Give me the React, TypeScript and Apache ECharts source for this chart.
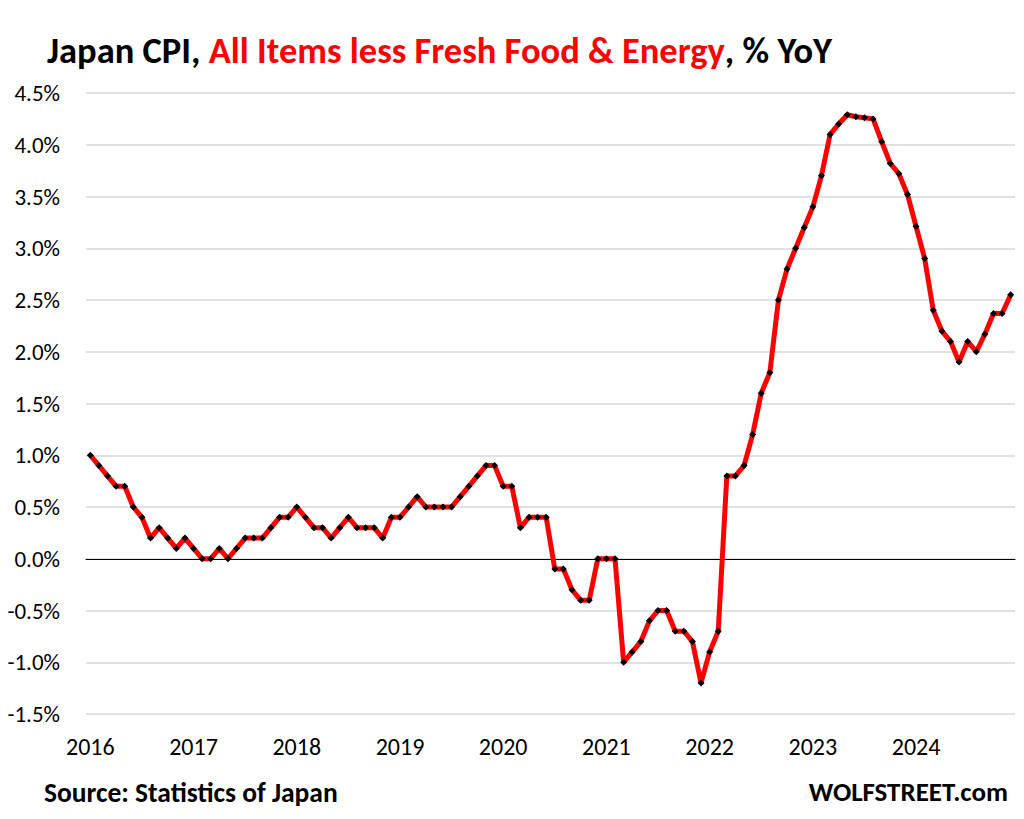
import React, { useEffect, useRef } from "react";
import * as echarts from "echarts";

// Monthly year-over-year change, Jan 2016 .. Dec 2024
const years = ["2016", "2017", "2018", "2019", "2020", "2021", "2022", "2023", "2024"];

const y2016 = [1.0, 0.9, 0.8, 0.7, 0.7, 0.5, 0.4, 0.2, 0.3, 0.2, 0.1, 0.2];
const y2017 = [0.1, 0.0, 0.0, 0.1, 0.0, 0.1, 0.2, 0.2, 0.2, 0.3, 0.4, 0.4];
const y2018 = [0.5, 0.4, 0.3, 0.3, 0.2, 0.3, 0.4, 0.3, 0.3, 0.3, 0.2, 0.4];
const y2019 = [0.4, 0.5, 0.6, 0.5, 0.5, 0.5, 0.5, 0.6, 0.7, 0.8, 0.9, 0.9];
const y2020 = [0.7, 0.7, 0.3, 0.4, 0.4, 0.4, -0.1, -0.1, -0.3, -0.4, -0.4, 0.0];
const y2021 = [0.0, 0.0, -1.0, -0.9, -0.8, -0.6, -0.5, -0.5, -0.7, -0.7, -0.8, -1.2];
const y2022 = [-0.9, -0.7, 0.8, 0.8, 0.9, 1.2, 1.6, 1.8, 2.5, 2.8, 3.0, 3.2];
const y2023 = [3.4, 3.7, 4.1, 4.2, 4.29, 4.27, 4.26, 4.25, 4.03, 3.82, 3.72, 3.52];
const y2024 = [3.21, 2.9, 2.4, 2.2, 2.1, 1.9, 2.1, 2.0, 2.17, 2.37, 2.37, 2.55];

const yearly = [y2016, y2017, y2018, y2019, y2020, y2021, y2022, y2023, y2024];

const months: string[] = [];
const values: number[] = [];
yearly.forEach((arr, yi) => {
  arr.forEach((v, mi) => {
    months.push(`${years[yi]}-${String(mi + 1).padStart(2, "0")}`);
    values.push(v);
  });
});

const FONT = "Carlito, Lato, 'Open Sans', sans-serif";

export default function App() {
  const ref = useRef<HTMLDivElement>(null);

  useEffect(() => {
    if (!ref.current) return;
    const chart = echarts.init(ref.current, undefined, { renderer: "svg" });
    chart.setOption({
      animation: false,
      backgroundColor: "#ffffff",
      title: {
        left: 42,
        top: 27,
        text: "{a|Japan CPI, }{b|All Items less Fresh Food & Energy}{a|, % YoY}",
        textStyle: {
          rich: {
            a: { fontFamily: FONT, fontWeight: "bold", fontSize: 36.5, color: "#000000" },
            b: { fontFamily: FONT, fontWeight: "bold", fontSize: 36.5, color: "#ff0000" },
          },
        },
      },
      graphic: [
        {
          type: "text",
          left: 44,
          top: 778,
          style: {
            text: "Source: Statistics of Japan",
            font: `bold 27.5px ${FONT}`,
            fill: "#000000",
          },
        },
        {
          type: "text",
          right: 16,
          top: 778,
          style: {
            text: "WOLFSTREET.com",
            font: `bold 27px ${FONT}`,
            fill: "#000000",
          },
        },
      ],
      grid: { left: 86, right: 9, top: 93, bottom: 105, containLabel: false },
      xAxis: {
        type: "category",
        data: months,
        boundaryGap: true,
        axisLine: { show: true, onZero: true, lineStyle: { color: "#000000", width: 1 } },
        axisTick: { show: false },
        splitLine: { show: false },
        axisLabel: {
          interval: (i: number) => i % 12 === 0,
          formatter: (v: string) => v.slice(0, 4),
          fontFamily: FONT,
          fontSize: 24,
          color: "#000000",
          margin: 20,
        },
      },
      yAxis: {
        type: "value",
        min: -1.5,
        max: 4.5,
        interval: 0.5,
        axisLine: { show: false },
        axisTick: { show: false },
        splitLine: { show: true, lineStyle: { color: "#d9d9d9", width: 1.5 } },
        axisLabel: {
          formatter: (v: number) => `${v.toFixed(1)}%`,
          fontFamily: FONT,
          fontSize: 23,
          color: "#000000",
          margin: 26,
        },
      },
      series: [
        {
          type: "line",
          data: values,
          lineStyle: { color: "#ff0000", width: 5 },
          itemStyle: { color: "#000000" },
          symbol: "diamond",
          symbolSize: 7,
          showSymbol: true,
          showAllSymbol: true,
          z: 3,
        },
      ],
    });
    return () => chart.dispose();
  }, []);

  return <div ref={ref} style={{ width: 1024, height: 819, margin: -8 }} />;
}
